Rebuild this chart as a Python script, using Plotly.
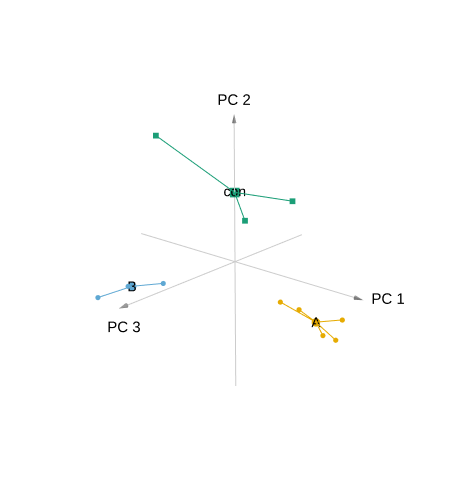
import plotly.graph_objects as go

groups = ["con", "A", "B"]
colors = {"con": "#1b9e77", "A": "#e6ab02", "B": "#5fa8d3"}
marker_symbols = {"con": "square", "A": "circle", "B": "circle"}
# centroids (PC1, PC2, PC3)
centroids = {"con": (0.0, 0.52, 0.0), "A": (0.72, -0.26, 0.0), "B": (0.0, 0.11, 0.95)}
# sample points (PC1, PC2, PC3)
points = {
    "con": [(-0.23, 0.95, 0.5), (0.5, 0.54, 0.0), (0.18, 0.37, 0.1)],
    "A": [(0.42, -0.20, 0.0), (0.58, -0.21, 0.0), (0.92, -0.18, 0.0), (0.78, -0.34, 0.0), (0.88, -0.34, 0.0)],
    "B": [(0.0, 0.12, 1.2), (0.0, 0.05, 0.7), (0.0, 0.12, 0.98)],
}
axis_labels = ["PC 1", "PC 2", "PC 3"]
label_pos = ["middle right", "top center", "bottom center"]
axis_pos = [1.0, 1.0, 1.0]
axis_neg = [-1.05, -1.05, -0.85]

fig = go.Figure()

def xyz(p):
    # scene x = PC3, y = PC1, z = PC2
    return p[2], p[0], p[1]

for i, lab in enumerate(axis_labels):
    a = [0, 0, 0]; b = [0, 0, 0]
    a[i] = axis_neg[i]; b[i] = axis_pos[i]
    xa, ya, za = xyz(a); xb, yb, zb = xyz(b)
    fig.add_trace(go.Scatter3d(x=[xa, xb], y=[ya, yb], z=[za, zb], mode="lines",
                               line=dict(color="#cccccc", width=2), hoverinfo="skip", showlegend=False))
    d = [0, 0, 0]; d[i] = 1
    dx, dy, dz = xyz(d)
    fig.add_trace(go.Cone(x=[xb], y=[yb], z=[zb], u=[dx], v=[dy], w=[dz], sizemode="absolute",
                          sizeref=0.06, anchor="tail", colorscale=[[0, "#999999"], [1, "#999999"]],
                          showscale=False, hoverinfo="skip"))
    t = [0, 0, 0]; t[i] = axis_pos[i] * 1.02
    tx, ty, tz = xyz(t)
    fig.add_trace(go.Scatter3d(x=[tx], y=[ty], z=[tz], mode="text", text=[lab],
                               textposition=label_pos[i],
                               textfont=dict(size=15, color="black", family="Arial"),
                               hoverinfo="skip", showlegend=False))

for g in groups:
    c = centroids[g]
    cx, cy, cz = xyz(c)
    for p in points[g]:
        px, py, pz = xyz(p)
        fig.add_trace(go.Scatter3d(x=[cx, px], y=[cy, py], z=[cz, pz], mode="lines",
                                   line=dict(color=colors[g], width=2), hoverinfo="skip", showlegend=False))
    xs, ys, zs = zip(*[xyz(p) for p in points[g]])
    fig.add_trace(go.Scatter3d(x=xs, y=ys, z=zs, mode="markers",
                               marker=dict(size=3, color=colors[g], symbol=marker_symbols[g]),
                               showlegend=False))
    fig.add_trace(go.Scatter3d(x=[cx], y=[cy], z=[cz], mode="markers+text", text=[g],
                               textposition="middle center",
                               textfont=dict(size=14, color="black", family="Arial"),
                               marker=dict(size=5, color=colors[g], symbol=marker_symbols[g]),
                               showlegend=False))

hidden = dict(visible=False, range=[-1.2, 1.2])
fig.update_layout(
    width=474, height=482, margin=dict(l=0, r=0, t=0, b=0),
    paper_bgcolor="white",
    scene=dict(xaxis=hidden, yaxis=hidden, zaxis=hidden, aspectmode="cube",
               camera=dict(eye=dict(x=1.25, y=1.1, z=0.62), center=dict(x=0.0, y=0.04, z=0.05))),
)
fig.write_html("out.html")
